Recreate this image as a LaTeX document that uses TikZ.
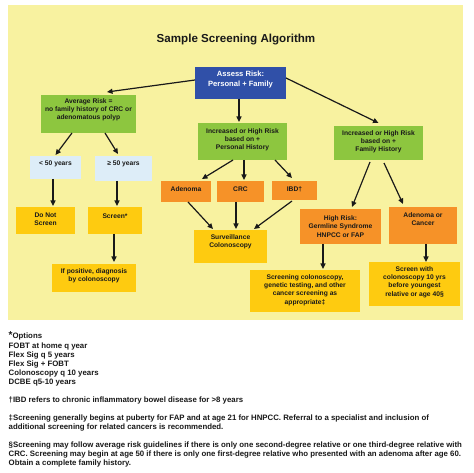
\documentclass[tikz,border=0pt]{standalone}
\usepackage{fontspec}
\setmainfont{Liberation Sans}
\usetikzlibrary{arrows.meta}
\definecolor{bgy}{RGB}{248,242,160}
\definecolor{bluebox}{RGB}{48,80,168}
\definecolor{greenbox}{RGB}{141,198,63}
\definecolor{lbluebox}{RGB}{221,237,248}
\definecolor{orangebox}{RGB}{246,146,40}
\definecolor{goldbox}{RGB}{254,203,16}
\definecolor{txtc}{RGB}{25,25,25}
\definecolor{arrc}{RGB}{25,25,25}
\begin{document}
\begin{tikzpicture}[x=1pt,y=-1pt,
  shp/.style={inner sep=0pt, outer sep=0pt},
  bluesh/.style={shp, fill=bluebox},
  greensh/.style={shp, fill=greenbox},
  lbluesh/.style={shp, fill=lbluebox},
  orangesh/.style={shp, fill=orangebox},
  goldsh/.style={shp, fill=goldbox},
  boxtxt/.style={inner sep=0pt, align=center, text=txtc, font=\bfseries\fontsize{6.7}{8.2}\selectfont},
  whitetxt/.style={inner sep=0pt, align=center, text=white, font=\bfseries\fontsize{7.6}{9.3}\selectfont},
  note/.style={inner sep=0pt, anchor=base west, text=txtc, font=\bfseries\fontsize{7.82}{9}\selectfont},
  arr/.style={draw=arrc, line width=1.2pt, -{Triangle[length=5.5pt,width=5pt]}}
]
\useasboundingbox (0,0) rectangle (474,473);
\fill[white] (0,0) rectangle (474,473);
\fill[bgy] (8,5) rectangle (463,320);

\node[inner sep=0pt, text=txtc, font=\bfseries\fontsize{11.6}{14}\selectfont] (title) at (236,40) {Sample Screening Algorithm};

% boxes
\node[bluesh, minimum width=91pt, minimum height=32pt] (assess) at (240.5,83) {};
\node[whitetxt] (assess-t) at ([yshift=3.5pt]assess.center) {Assess Risk:\\Personal + Family};

\node[greensh, minimum width=95pt, minimum height=38pt] (avg) at (88.5,114) {};
\node[boxtxt] (avg-t) at ([yshift=4pt]avg.center) {Average Risk =\\no family history of CRC or\\adenomatous polyp};

\node[greensh, minimum width=89pt, minimum height=37pt] (incp) at (242.5,141.5) {};
\node[boxtxt] (incp-t) at ([yshift=1.5pt]incp.center) {Increased or High Risk\\based on +\\Personal History};

\node[greensh, minimum width=89pt, minimum height=34pt] (incf) at (378.5,143) {};
\node[boxtxt] (incf-t) at ([yshift=1.3pt]incf.center) {Increased or High Risk\\based on +\\Family History};

\node[lbluesh, minimum width=51pt, minimum height=23pt] (lt50) at (55.5,167.5) {};
\node[boxtxt] (lt50-t) at ([yshift=3.5pt]lt50.center) {< 50 years};

\node[lbluesh, minimum width=57pt, minimum height=25pt] (ge50) at (123.5,168.5) {};
\node[boxtxt] (ge50-t) at ([yshift=4.5pt]ge50.center) {≥ 50 years};

\node[goldsh, minimum width=59pt, minimum height=27pt] (dns) at (45.5,220.5) {};
\node[boxtxt] (dns-t) at ([yshift=1.5pt]dns.center) {Do Not\\Screen};

\node[goldsh, minimum width=54pt, minimum height=27pt] (scr) at (115,220.5) {};
\node[boxtxt] (scr-t) at ([yshift=4.5pt]scr.center) {Screen*};

\node[goldsh, minimum width=84pt, minimum height=28pt] (ifpos) at (94,278) {};
\node[boxtxt] (ifpos-t) at ([yshift=2pt]ifpos.center) {If positive, diagnosis\\by colonoscopy};

\node[orangesh, minimum width=50pt, minimum height=21pt] (aden) at (186,191.5) {};
\node[boxtxt] (aden-t) at ([yshift=2.5pt]aden.center) {Adenoma};

\node[orangesh, minimum width=47pt, minimum height=21pt] (crc) at (240.5,191.5) {};
\node[boxtxt] (crc-t) at ([yshift=2.5pt]crc.center) {CRC};

\node[orangesh, minimum width=45pt, minimum height=19pt] (ibd) at (294.5,190.5) {};
\node[boxtxt] (ibd-t) at ([yshift=1.5pt]ibd.center) {IBD†};

\node[goldsh, minimum width=73pt, minimum height=33pt] (surv) at (230.5,246.5) {};
\node[boxtxt] (surv-t) at ([yshift=4.5pt]surv.center) {Surveillance\\Colonoscopy};

\node[orangesh, minimum width=81pt, minimum height=35pt] (hrisk) at (340.5,226.5) {};
\node[boxtxt] (hrisk-t) at (hrisk.center) {High Risk:\\Germline Syndrome\\HNPCC or FAP};

\node[orangesh, minimum width=68pt, minimum height=37pt] (adc) at (423,225.5) {};
\node[boxtxt] (adc-t) at ([yshift=6.5pt]adc.center) {Adenoma or\\Cancer};

\node[goldsh, minimum width=110pt, minimum height=42pt] (scol) at (305,291) {};
\node[boxtxt] (scol-t) at ([yshift=1pt]scol.center) {Screening colonoscopy,\\genetic testing, and other\\cancer screening as\\appropriate‡};

\node[goldsh, minimum width=91pt, minimum height=44pt] (swith) at (414.5,284) {};
\node[boxtxt] (swith-t) at ([yshift=2pt]swith.center) {Screen with\\colonoscopy 10 yrs\\before youngest\\relative or age 40§};

% connectors
\draw[arr] ([yshift=3pt]assess.west) -- ([xshift=18.5pt,yshift=3pt]avg.north);
\draw[arr] ([xshift=-1.5pt]assess.south) -- ([xshift=-1.5pt,yshift=1pt]assess.south |- incp.north);
\draw[arr] ([yshift=5pt]assess.east) -- ([yshift=3pt]incf.north);
\draw[arr] ([xshift=-16.5pt]avg.south) -- ([yshift=1pt]lt50.north);
\draw[arr] ([xshift=16.5pt]avg.south) -- ([xshift=-5.5pt,yshift=2pt]ge50.north);
\draw[arr] ([xshift=-2.5pt]lt50.south) -- ([xshift=-2.5pt,yshift=1pt]lt50.south |- dns.north);
\draw[arr] ([xshift=-6.5pt]ge50.south) -- ([xshift=-6.5pt,yshift=1pt]ge50.south |- scr.north);
\draw[arr] ([xshift=-1pt]scr.south) -- ([xshift=-1pt,yshift=2pt]scr.south |- ifpos.north);
\draw[arr] ([xshift=-9.5pt]incp.south) -- ([xshift=16pt,yshift=2pt]aden.north);
\draw[arr] ([xshift=1.5pt]incp.south) -- ([xshift=1.5pt,yshift=1pt]incp.south |- crc.north);
\draw[arr] ([xshift=32.5pt]incp.south) -- ([xshift=-2.5pt,yshift=3pt]ibd.north);
\draw[arr] ([xshift=2pt]aden.south) -- ([xshift=-17.5pt,yshift=1pt]surv.north);
\draw[arr] ([xshift=-4.5pt]crc.south) -- ([xshift=-4.5pt,yshift=1pt]crc.south |- surv.north);
\draw[arr] ([xshift=-2.5pt,yshift=-1pt]ibd.south) -- ([xshift=23.5pt,yshift=1pt]surv.north);
\draw[arr] ([xshift=-8.5pt,yshift=-2pt]incf.south) -- ([xshift=11.5pt,yshift=2pt]hrisk.north);
\draw[arr] ([xshift=5.5pt,yshift=-3pt]incf.south) -- ([xshift=-20pt,yshift=3pt]adc.north);
\draw[arr] ([xshift=-17.5pt]hrisk.south) -- ([xshift=-17.5pt,yshift=1pt]hrisk.south |- scol.north);
\draw[arr] ([xshift=3pt]adc.south) -- ([xshift=3pt,yshift=0pt]adc.south |- swith.north);

% footnotes
\node[note] (n1) at (8.5,338.5) {{\fontsize{10}{9}\selectfont *}Options};
\node[note] (n2) at (8.5,348.5) {FOBT at home q year};
\node[note] (n3) at (8.5,357.5) {Flex Sig q 5 years};
\node[note] (n4) at (8.5,366.5) {Flex Sig + FOBT};
\node[note] (n5) at (8.5,375.5) {Colonoscopy q 10 years};
\node[note] (n6) at (8.5,384.5) {DCBE q5-10 years};
\node[note] (n7) at (8.5,402.5) {†IBD refers to chronic inflammatory bowel disease for >8 years};
\node[note] (n8) at (8.5,420.5) {‡Screening generally begins at puberty for FAP and at age 21 for HNPCC. Referral to a specialist and inclusion of};
\node[note] (n9) at (8.5,429.5) {additional screening for related cancers is recommended.};
\node[note] (n10) at (8.5,447.5) {§Screening may follow average risk guidelines if there is only one second-degree relative or one third-degree relative with};
\node[note] (n11) at (8.5,456.5) {CRC. Screening may begin at age 50 if there is only one first-degree relative who presented with an adenoma after age 60.};
\node[note] (n12) at (8.5,465.5) {Obtain a complete family history.};
\end{tikzpicture}
\end{document}
